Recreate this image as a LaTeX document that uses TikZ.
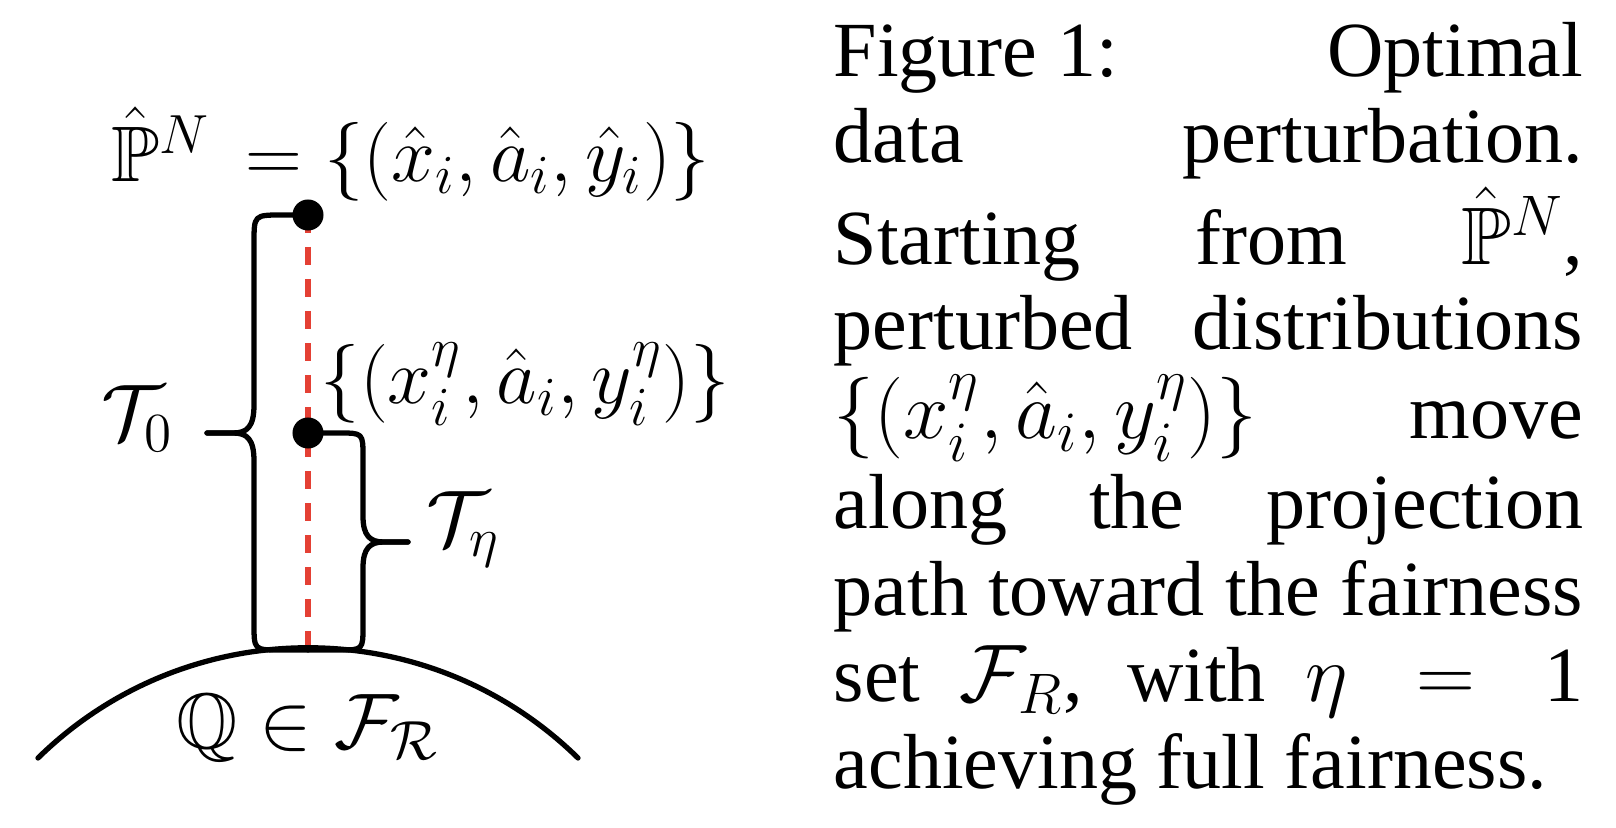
\RequirePackage{fix-cm}
\documentclass[tikz,border=0pt]{standalone}
\usepackage{amssymb}
\DeclareFontFamily{U}{msb}{}
\DeclareFontShape{U}{msb}{m}{n}{<-6>msbm5<6-8>msbm7<8->msbm10}{}
\usepackage[no-math]{fontspec}
\setmainfont{Liberation Serif}
\newlength\capw
\setlength\capw{7.49cm}
\newcommand\bigfont{\fontsize{22.2pt}{26pt}\selectfont}
\newcommand\mfont{\fontsize{22.4pt}{26pt}\selectfont}
\newcommand\cmfont{\fontsize{23.2pt}{27pt}\selectfont}
\definecolor{pathred}{RGB}{228,64,52}
\begin{document}
\begin{tikzpicture}[x=0.01cm,y=-0.01cm,
  capline/.style={anchor=base west, inner sep=0pt, font=\bigfont},
  lab/.style={anchor=base west, inner sep=0pt, font=\mfont},
  dotnode/.style={circle, fill=black, inner sep=0pt, minimum size=0.31cm},
  bk/.style={line width=1.5pt, black, line cap=round, line join=round},
  redpath/.style={line width=1.5pt, pathred, dash pattern=on 5.1pt off 4pt}]
\useasboundingbox (0,0) rectangle (1616,828);
% labels
\node[lab] (PN) at (111,182) {$\hat{\mathbb{P}}^N\mskip3mu = \{(\hat{x}_i, \hat{a}_i, \hat{y}_i)\}$};
\node[lab] (Peta) at (320,404) {$\{(x_i^\eta, \hat{a}_i, y_i^\eta)\}$};
\node[lab] (T0) at (101,440) {$\mathcal{T}_0$};
\node[lab] (Te) at (426,545) {$\mathcal{T}_\eta$};
\node[lab] (Q) at (176,748) {$\mathbb{Q} \in \mathcal{F}_{\mathcal{R}}$};
% points
\coordinate (p1) at (308,215);
\coordinate (p2) at (308,433);
\coordinate (foot) at (308,650);
\coordinate (t0tip) at (207,433);
\coordinate (tetip) at (408,542);
\coordinate (arcL) at (38,758);
\coordinate (arcR) at (578,758);
% projection path
\draw[redpath] (p1) -- (foot);
% fairness set boundary
\draw[bk] (arcL) .. controls (188,611) and (428,611) .. (arcR);
% brace T0
\draw[bk] (p1) -- (282,215) .. controls (254,215) .. (254,243) -- (254,405)
  .. controls (254,427) and (247,433) .. (233,433) -- (t0tip);
\draw[bk] (t0tip) -- (233,433) .. controls (247,433) and (254,439) .. (254,461)
  -- (254,624) .. controls (254,650) .. (280,650) -- (foot);
% brace T_eta
\draw[bk] (p2) -- (339,433) .. controls (363,433) .. (363,457) -- (363,516)
  .. controls (363,536) and (370,542) .. (384,542) -- (tetip);
\draw[bk] (tetip) -- (384,542) .. controls (370,542) and (363,548) .. (363,568)
  -- (363,626) .. controls (363,650) .. (339,650) -- (foot);
% dots
\node[dotnode] (d1) at (p1) {};
\node[dotnode] (d2) at (p2) {};
% caption
\node[capline] (c1) at (833,77) {\hbox to \capw{\mbox{Figure 1:} Optimal}};
\node[capline] (c2) at (833,163) {\hbox to \capw{data perturbation.}};
\node[capline] (c3) at (833,265) {\hbox to \capw{Starting from {\cmfont$\hat{\mathbb{P}}^N$},}};
\node[capline] (c4) at (833,350) {\hbox to \capw{perturbed distributions}};
\node[capline] (c5) at (833,439) {\hbox to \capw{{\cmfont$\{(x_i^\eta, \hat{a}_i, y_i^\eta)\}$} move}};
\node[capline] (c6) at (833,528) {\hbox to \capw{along the projection}};
\node[capline] (c7) at (833,615) {\hbox to \capw{path toward the fairness}};
\node[capline] (c8) at (833,701) {\hbox to \capw{set {\cmfont$\mathcal{F}_R$}, with {\cmfont$\eta = \mbox{\bigfont 1}$}}};
\node[capline] (c9) at (833,788) {achieving full fairness.};
\end{tikzpicture}
\end{document}
